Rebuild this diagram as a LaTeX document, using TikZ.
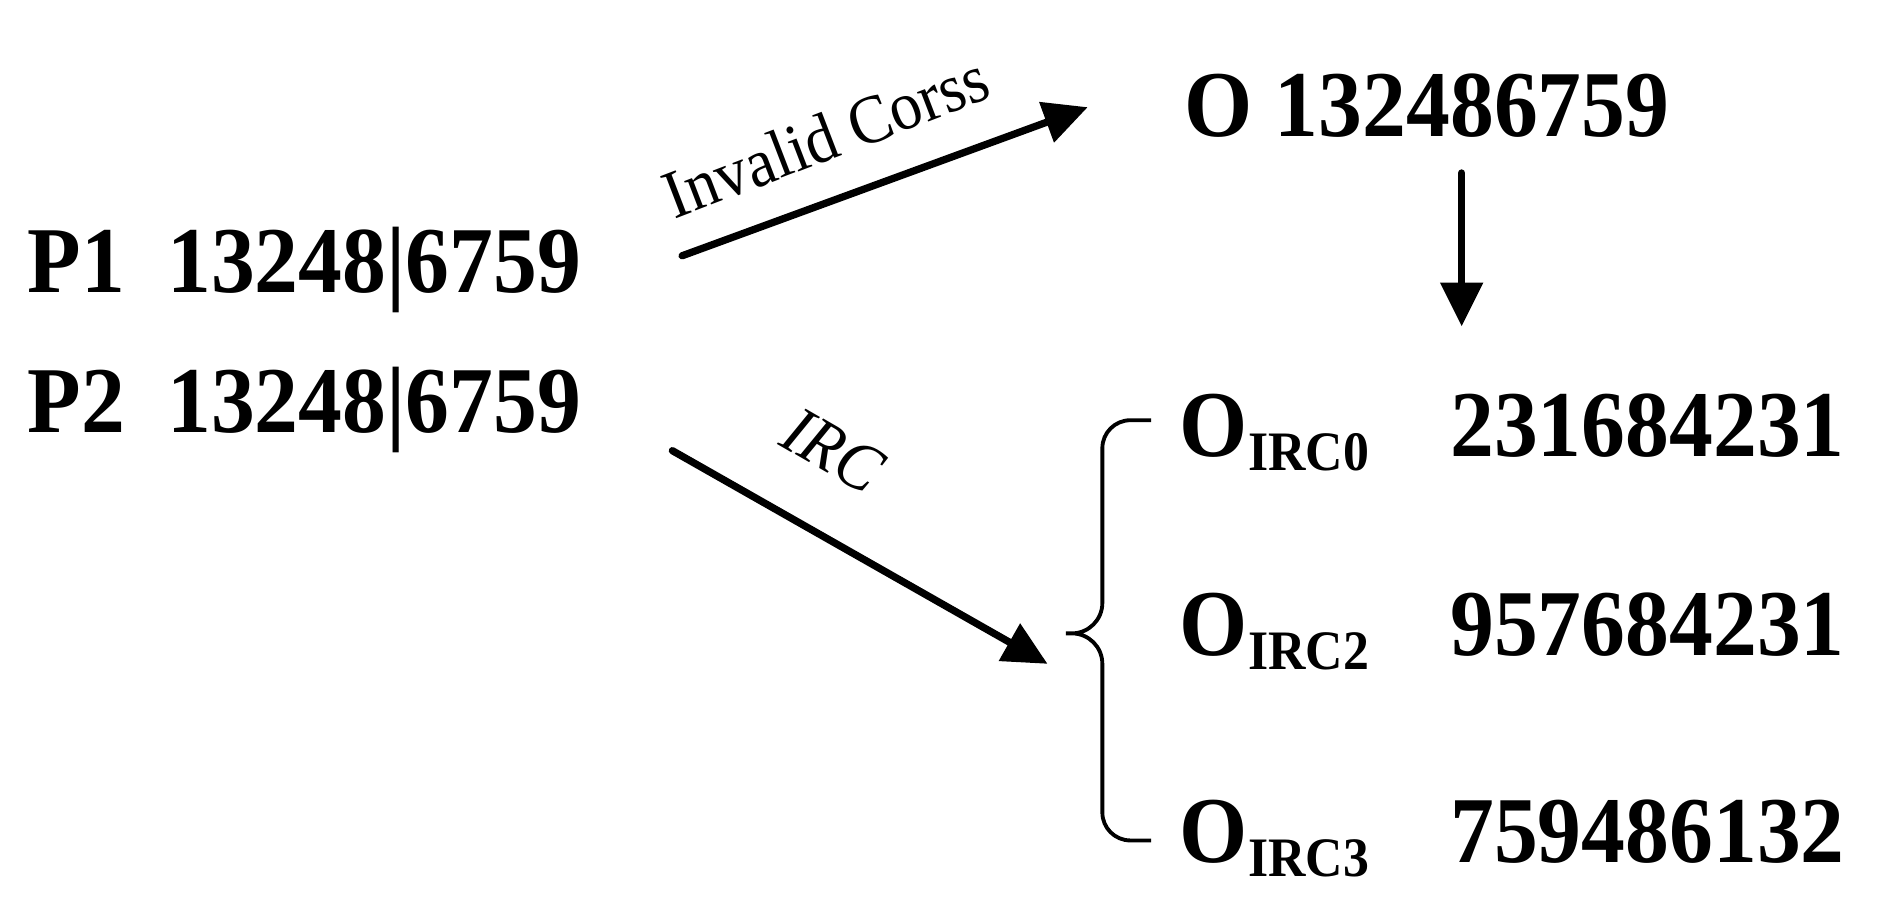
\documentclass[tikz,border=0pt]{standalone}
\usepackage{fontspec}
\setmainfont{Liberation Serif}[FakeStretch=0.93]
\usetikzlibrary{arrows.meta}
\begin{document}
\begin{tikzpicture}[x=0.01cm,y=-0.01cm,
  big/.style={inner sep=0pt,anchor=base west,font=\fontsize{22}{26}\selectfont\bfseries},
  arr/.style={line width=1.7pt,line cap=round,-{Triangle[length=0.36cm,width=0.34cm]}},
  lbl/.style={inner sep=0pt,font=\fontsize{16}{19}\selectfont}]
\useasboundingbox (0,0) rectangle (1550,752);
\newcommand{\sbs}[1]{\raisebox{-0.15em}{\fontsize{13}{15}\selectfont #1}}
\node[big] (p1) at (22,240) {P1\hspace{0.45em}13248|6759};
\node[big] (p2) at (22,355) {P2\hspace{0.45em}13248|6759};
\node[big] (o) at (972,112) {O 132486759};
\node[big] (r0) at (968,375) {O\sbs{IRC0}};
\node[big] (n0) at (1190,375) {231684231};
\node[big] (r2) at (968,538) {O\sbs{IRC2}};
\node[big] (n2) at (1190,538) {957684231};
\node[big] (r3) at (968,708) {O\sbs{IRC3}};
\node[big] (n3) at (1190,708) {759486132};
\coordinate (a1s) at (560,210); \coordinate (a1e) at (893,88);
\coordinate (a2s) at (1200,142); \coordinate (a2e) at (1200,268);
\coordinate (a3s) at (552,370); \coordinate (a3e) at (860,545);
\draw[arr] (a1s) -- (a1e);
\draw[arr] (a2s) -- (a2e);
\draw[arr] (a3s) -- (a3e);
\node[lbl,rotate=21] (l1) at (678,112) {Invalid Corss};
\node[lbl,rotate=-30,font=\fontsize{16}{19}\selectfont\itshape] (l2) at (684,370) {IRC};
\draw[line width=0.9pt] (945,345) -- (928,345) arc[start angle=270,end angle=180,radius=23] -- (905,495)
  arc[start angle=0,end angle=90,radius=25] -- (875,520) -- (880,520)
  arc[start angle=270,end angle=360,radius=25] -- (905,667)
  arc[start angle=180,end angle=90,radius=23] -- (945,690);
\end{tikzpicture}
\end{document}
